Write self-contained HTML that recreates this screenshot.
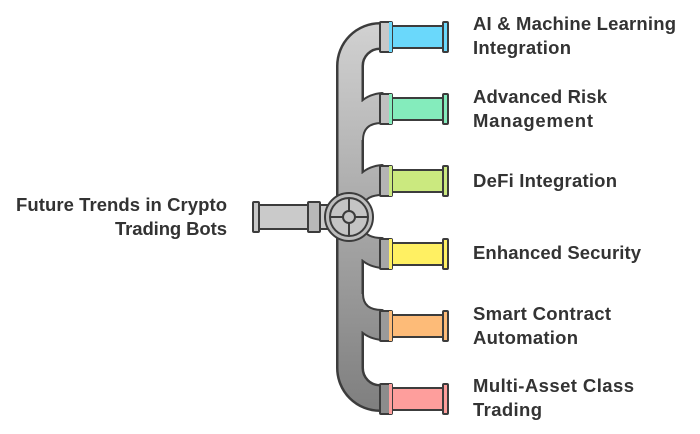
<!DOCTYPE html>
<html><head><meta charset="utf-8"><style>
html,body{margin:0;padding:0;background:#fff;}
svg{display:block}
text{font-family:"Liberation Sans",sans-serif;font-weight:bold;font-size:18.5px;fill:#333;}
</style></head><body>
<svg width="700" height="434" viewBox="0 0 700 434" xmlns="http://www.w3.org/2000/svg">
<defs>
<linearGradient id="g" gradientUnits="userSpaceOnUse" x1="0" y1="20" x2="0" y2="415">
<stop offset="0" stop-color="#d2d2d2"/><stop offset="1" stop-color="#7e7e7e"/>
</linearGradient>
</defs>
<!-- outlines -->
<g stroke="#3c3c3c" stroke-width="4" fill="#3c3c3c" stroke-linejoin="round">
<path d="M380,36 A30,30 0 0 0 350,66 L350,368 A30,30 0 0 0 380,398" fill="none" stroke-width="28"/>
<path d="M362,102 Q370,95 382,94 L382,122 Q362,122 362,140 L352,140 L352,102 Z"/>
<path d="M362,174 Q370,167 382,166 L382,194 Q366,194 362,205 L352,205 L352,174 Z"/>
<path d="M362,229 Q366,239 382,239 L382,267 Q370,266 362,259 L352,259 L352,229 Z"/>
<path d="M362,294 Q362,311 382,311 L382,339 Q370,338 362,331 L352,331 L352,294 Z"/>
<rect x="256" y="206" width="76" height="22"/>
</g>
<!-- fills -->
<g fill="url(#g)">
<path d="M380,36 A30,30 0 0 0 350,66 L350,368 A30,30 0 0 0 380,398" fill="none" stroke="url(#g)" stroke-width="23"/>
<path d="M362,102 Q370,95 382,94 L382,122 Q362,122 362,140 L352,140 L352,102 Z"/>
<path d="M362,174 Q370,167 382,166 L382,194 Q366,194 362,205 L352,205 L352,174 Z"/>
<path d="M362,229 Q366,239 382,239 L382,267 Q370,266 362,259 L352,259 L352,229 Z"/>
<path d="M362,294 Q362,311 382,311 L382,339 Q370,338 362,331 L352,331 L352,294 Z"/>
</g>
<rect x="256" y="206" width="76" height="22" fill="#cacaca"/>
<g stroke="#3c3c3c" stroke-width="2">
<rect x="253" y="202" width="6" height="30" rx="1" fill="#c8c8c8"/>
<rect x="308" y="202" width="12" height="30" rx="1" fill="#b8b8b8"/>
<circle cx="349" cy="217" r="24" fill="#bdbdbd"/>
<circle cx="349" cy="217" r="19" fill="#c4c4c4"/>
<line x1="330" y1="217" x2="368" y2="217"/>
<line x1="349" y1="198" x2="349" y2="236"/>
<circle cx="349" cy="217" r="6" fill="#c4c4c4"/>
</g>
<g stroke="#3c3c3c" stroke-width="2">
<rect x="392" y="26" width="52" height="22" fill="#6ad8fb"/><rect x="380" y="22" width="12" height="30" rx="1" fill="#c8c8c8"/><rect x="389" y="22" width="3" height="30" fill="#6ad8fb" stroke="none"/><rect x="443" y="22" width="5" height="30" rx="1" fill="#6ad8fb"/>
<rect x="392" y="98" width="52" height="22" fill="#84ecbc"/><rect x="380" y="94" width="12" height="30" rx="1" fill="#c0c0c0"/><rect x="389" y="94" width="3" height="30" fill="#84ecbc" stroke="none"/><rect x="443" y="94" width="5" height="30" rx="1" fill="#84ecbc"/>
<rect x="392" y="170" width="52" height="22" fill="#cbe97f"/><rect x="380" y="166" width="12" height="30" rx="1" fill="#b4b4b4"/><rect x="389" y="166" width="3" height="30" fill="#cbe97f" stroke="none"/><rect x="443" y="166" width="5" height="30" rx="1" fill="#cbe97f"/>
<rect x="392" y="243" width="52" height="22" fill="#fff062"/><rect x="380" y="239" width="12" height="30" rx="1" fill="#a8a8a8"/><rect x="389" y="239" width="3" height="30" fill="#fff062" stroke="none"/><rect x="443" y="239" width="5" height="30" rx="1" fill="#fff062"/>
<rect x="392" y="315" width="52" height="22" fill="#fdbb78"/><rect x="380" y="311" width="12" height="30" rx="1" fill="#9a9a9a"/><rect x="389" y="311" width="3" height="30" fill="#fdbb78" stroke="none"/><rect x="443" y="311" width="5" height="30" rx="1" fill="#fdbb78"/>
<rect x="392" y="388" width="52" height="22" fill="#fe9e9c"/><rect x="380" y="384" width="12" height="30" rx="1" fill="#8c8c8c"/><rect x="389" y="384" width="3" height="30" fill="#fe9e9c" stroke="none"/><rect x="443" y="384" width="5" height="30" rx="1" fill="#fe9e9c"/>
</g>
<text x="227" y="211" text-anchor="end" textLength="211">Future Trends in Crypto</text>
<text x="227" y="235" text-anchor="end" textLength="112">Trading Bots</text>
<text x="473" y="30" textLength="203">AI &amp; Machine Learning</text>
<text x="473" y="54" textLength="98">Integration</text>
<text x="473" y="103" textLength="134">Advanced Risk</text>
<text x="473" y="127" textLength="120">Management</text>
<text x="473" y="187" textLength="144">DeFi Integration</text>
<text x="473" y="259" textLength="168">Enhanced Security</text>
<text x="473" y="320" textLength="138">Smart Contract</text>
<text x="473" y="344" textLength="105">Automation</text>
<text x="473" y="392" textLength="161">Multi-Asset Class</text>
<text x="473" y="416" textLength="69">Trading</text>
</svg>
</body></html>
